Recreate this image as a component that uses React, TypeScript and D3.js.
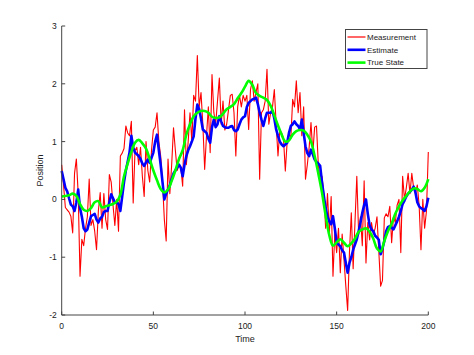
import React from "react";
import * as d3 from "d3";

const measurement: number[] = [
  0.60, 0.25, -0.14, -0.18, -0.22, -0.29, -0.58, 0.45, 0.70, 0.10,
  -1.33, -0.69, -0.80, -0.50, -0.30, 0.35, -0.45, -0.35, -0.55, -0.87,
  -0.20, 0.12, -0.50, 0.10, -0.35, -0.52, 0.43, 0.30, -0.10, -0.45,
  0.00, -0.55, 0.75, 0.80, 0.88, 1.27, 1.15, 1.10, 1.35, -0.06,
  0.85, 0.90, 0.60, 0.90, 0.40, 0.05, 1.00, 0.50, 0.30, 0.85,
  1.20, 1.25, 1.50, 1.00, 0.75, 0.30, -0.35, -0.72, 0.70, 0.10,
  0.60, 1.24, 0.85, 0.50, 0.60, 0.55, 0.23, 1.55, 0.60, 1.00,
  1.50, 1.00, 1.80, 1.70, 2.49, 1.60, 1.85, 1.30, 0.52, 1.10,
  1.60, 0.81, 2.16, 1.50, 1.30, 1.70, 2.10, 1.30, 1.70, 1.20,
  1.30, 1.55, 1.80, 1.82, 1.50, 0.75, 1.60, 1.80, 1.60, 1.80,
  1.70, 1.80, 1.21, 1.90, 2.05, 1.70, 1.85, 2.00, 0.35, 1.50,
  1.55, 1.70, 2.25, 1.30, 1.50, 1.60, 1.90, 1.30, 0.75, 1.20,
  1.15, 1.05, 0.49, 1.00, 1.15, 1.05, 1.73, 1.60, 2.05, 1.50,
  1.85, 1.10, 1.60, 0.35, 0.60, 0.90, 1.33, 0.80, 1.25, 1.27,
  0.60, 0.30, 0.40, 0.10, -0.50, 0.10, -0.58, 0.05, -1.33, -0.58,
  -0.92, -0.50, -1.27, -0.60, -1.04, -1.50, -1.92, -0.90, -0.23, -1.20,
  -0.40, 0.40, -0.60, -0.30, -0.80, 0.32, -1.10, -0.40, -0.70, -0.40,
  -0.60, -0.50, -0.30, -0.90, -1.50, -1.40, -0.32, -0.25, -0.30, -0.12,
  -0.75, -0.30, -0.40, -0.10, 0.00, -0.92, 0.40, 0.00, 0.20, 0.45,
  0.10, 0.45, 0.20, 0.10, 0.25, -0.10, -0.87, 0.00, -0.50, -0.20,
  0.82,
];

const estimate: number[] = [
  0.49, 0.35, 0.20, 0.14, 0.02, -0.09, -0.12, -0.20, -0.05, 0.17,
  -0.15, -0.30, -0.50, -0.55, -0.52, -0.40, -0.29, -0.27, -0.25, -0.35,
  -0.40, -0.33, -0.30, -0.22, -0.20, -0.20, -0.05, 0.09, 0.02, -0.05,
  -0.05, -0.08, -0.20, 0.05, 0.30, 0.50, 0.65, 0.81, 1.10, 0.90,
  0.81, 0.78, 0.75, 0.70, 0.62, 0.58, 0.64, 0.69, 0.63, 0.72,
  0.81, 1.00, 1.12, 0.85, 0.60, 0.30, 0.00, 0.10, 0.17, 0.25,
  0.35, 0.45, 0.50, 0.55, 0.60, 0.55, 0.40, 0.60, 0.75, 0.85,
  0.92, 1.00, 1.09, 1.40, 1.64, 1.56, 1.40, 1.21, 1.18, 1.15,
  1.05, 0.98, 1.25, 1.38, 1.25, 1.30, 1.44, 1.35, 1.27, 1.25,
  1.24, 1.24, 1.26, 1.27, 1.20, 1.18, 1.21, 1.30, 1.38, 1.42,
  1.44, 1.60, 1.67, 1.70, 1.73, 1.74, 1.76, 1.65, 1.50, 1.38,
  1.27, 1.40, 1.50, 1.50, 1.50, 1.53, 1.40, 1.21, 1.10, 1.00,
  0.95, 0.92, 0.95, 0.98, 1.15, 1.27, 1.30, 1.35, 1.30, 1.27,
  1.21, 1.38, 1.15, 0.92, 0.80, 0.75, 0.86, 0.78, 0.69, 0.65,
  0.62, 0.58, 0.30, 0.06, -0.15, -0.30, -0.38, -0.43, -0.29, -0.50,
  -0.75, -0.78, -0.81, -0.88, -0.92, -1.10, -1.27, -1.10, -1.00, -0.87,
  -0.78, -0.69, -0.55, -0.40, -0.23, -0.10, 0.00, -0.25, -0.45, -0.52,
  -0.55, -0.63, -0.66, -0.70, -0.95, -0.85, -0.72, -0.55, -0.48, -0.46,
  -0.49, -0.52, -0.45, -0.38, -0.30, -0.20, -0.08, -0.02, 0.05, 0.10,
  0.13, 0.17, 0.22, 0.12, -0.05, -0.12, -0.15, -0.17, -0.20, -0.12,
  0.03,
];

// True state sampled every 2 time units (t = 0, 2, ..., 200)
const trueState: number[] = [
  0.05, 0.06, 0.07, 0.10, 0.06, -0.08, -0.18, -0.20, -0.15, -0.05,
  -0.03, -0.14, -0.12, -0.10, -0.08, -0.04, 0.08, 0.40, 0.62, 0.82,
  0.98, 1.03, 0.97, 0.88, 0.70, 0.50, 0.33, 0.18, 0.12, 0.17,
  0.32, 0.50, 0.70, 0.85, 1.12, 1.30, 1.44, 1.50, 1.53, 1.53,
  1.50, 1.43, 1.41, 1.42, 1.48, 1.56, 1.60, 1.65, 1.75, 1.84,
  1.95, 2.05, 1.98, 1.84, 1.79, 1.76, 1.72, 1.62, 1.45, 1.28,
  1.12, 1.00, 1.02, 1.12, 1.18, 1.20, 1.19, 1.12, 1.00, 0.75,
  0.45, 0.12, -0.28, -0.62, -0.80, -0.74, -0.69, -0.75, -0.81, -0.76,
  -0.68, -0.56, -0.52, -0.50, -0.56, -0.68, -0.85, -0.90, -0.72, -0.55,
  -0.42, -0.25, -0.12, -0.02, 0.06, 0.14, 0.19, 0.18, 0.14, 0.20,
  0.35,
];

const xTicks: number[] = [0, 50, 100, 150, 200];
const yTicks: number[] = [-2, -1, 0, 1, 2, 3];
const legendLabels: string[] = ["Measurement", "Estimate", "True State"];

const W = 474;
const H = 355;
const FONT = "'Liberation Sans', Arial, Helvetica, sans-serif";

export default function App() {
  const x = d3.scaleLinear().domain([0, 200]).range([61.7, 428.3]);
  const y = d3.scaleLinear().domain([-2, 3]).range([315, 26]);

  const measPts: [number, number][] = measurement.map((v, i) => [i, v]);
  const estPts: [number, number][] = estimate.map((v, i) => [i, v]);
  const truePts: [number, number][] = trueState.map((v, i) => [i * 2, v]);

  const lin = d3
    .line<[number, number]>()
    .x((d) => x(d[0]))
    .y((d) => y(d[1]));
  const smooth = d3
    .line<[number, number]>()
    .x((d) => x(d[0]))
    .y((d) => y(d[1]))
    .curve(d3.curveCatmullRom.alpha(0.5));

  const axisColor = "#444";
  const textColor = "#222";
  const x0 = x(0);
  const x1 = x(200);
  const yb = y(-2);
  const yt = y(3);

  const legendX = 345.5;
  const legendY = 29.5;
  const legendW = 81.5;
  const legendH = 39;
  const legendColors = ["#ff0000", "#0000ff", "#00ff00"];
  const legendWidths = [1.2, 2.6, 2.6];

  return (
    <svg
      width={W}
      height={H}
      style={{ position: "absolute", left: 0, top: 0, background: "#fff" }}
      fontFamily={FONT}
    >
      <rect x={0} y={0} width={W} height={H} fill="#fff" />
      {/* data lines */}
      <path d={lin(measPts) || ""} fill="none" stroke="#ff0000" strokeWidth={1.1} strokeLinejoin="round" />
      <path d={lin(estPts) || ""} fill="none" stroke="#0000ff" strokeWidth={2.6} strokeLinejoin="round" />
      <path d={smooth(truePts) || ""} fill="none" stroke="#00ff00" strokeWidth={2.6} strokeLinejoin="round" />

      {/* axes */}
      <line x1={x0} y1={yt} x2={x0} y2={yb} stroke={axisColor} strokeWidth={1} />
      <line x1={x0} y1={yb} x2={x1} y2={yb} stroke={axisColor} strokeWidth={1} />
      {yTicks.map((t) => (
        <g key={"y" + t}>
          <line x1={x0} x2={x0 + 3.5} y1={y(t)} y2={y(t)} stroke={axisColor} />
          <text
            x={x0 - 5}
            y={y(t)}
            dy="0.35em"
            textAnchor="end"
            fontSize={8.5}
            fill={textColor}
          >
            {t}
          </text>
        </g>
      ))}
      {xTicks.map((t) => (
        <g key={"x" + t}>
          <line x1={x(t)} x2={x(t)} y1={yb} y2={yb - 3.5} stroke={axisColor} />
          <text
            x={x(t)}
            y={yb + 14}
            textAnchor="middle"
            fontSize={8.5}
            fill={textColor}
          >
            {t}
          </text>
        </g>
      ))}
      <text x={(x0 + x1) / 2} y={yb + 27} textAnchor="middle" fontSize={9} fill={textColor}>
        Time
      </text>
      <text
        transform={`translate(${43},${(yt + yb) / 2}) rotate(-90)`}
        textAnchor="middle"
        fontSize={9}
        fill={textColor}
      >
        Position
      </text>

      {/* legend */}
      <rect x={legendX} y={legendY} width={legendW} height={legendH} fill="#fff" stroke={axisColor} strokeWidth={1} />
      {legendLabels.map((lab, i) => {
        const ly = legendY + 7.5 + i * 12.8;
        return (
          <g key={lab}>
            <line x1={legendX + 2} x2={legendX + 20} y1={ly} y2={ly} stroke={legendColors[i]} strokeWidth={legendWidths[i]} />
            <text x={legendX + 21.5} y={ly} dy="0.35em" fontSize={8} fill={textColor}>
              {lab}
            </text>
          </g>
        );
      })}
    </svg>
  );
}
